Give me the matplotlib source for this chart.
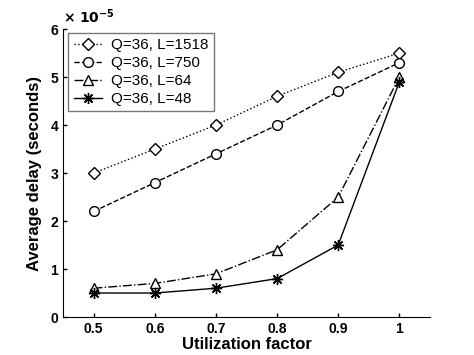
import matplotlib
matplotlib.use("Agg")
import matplotlib.pyplot as plt

x = [0.5, 0.6, 0.7, 0.8, 0.9, 1.0]
labels = ["Q=36, L=1518", "Q=36, L=750", "Q=36, L=64", "Q=36, L=48"]
d1518 = [3.0, 3.5, 4.0, 4.6, 5.1, 5.5]
d750 = [2.2, 2.8, 3.4, 4.0, 4.7, 5.3]
d64 = [0.6, 0.7, 0.9, 1.4, 2.5, 5.0]
d48 = [0.5, 0.5, 0.6, 0.8, 1.5, 4.9]
xticks = [0.5, 0.6, 0.7, 0.8, 0.9, 1]
xticklabels = ["0.5", "0.6", "0.7", "0.8", "0.9", "1"]
yticks = [0, 1, 2, 3, 4, 5, 6]

plt.rcParams['font.family'] = ['Liberation Sans', 'DejaVu Sans']

fig = plt.figure(figsize=(4.74, 3.55), dpi=100)
ax = fig.add_axes([0.133, 0.107, 0.774, 0.811])

series = [d1518, d750, d64, d48]
styles = [(':', 'D', 6), ('--', 'o', 7), ('-.', '^', 7), ('-', (8, 2, 0), 8)]
for ys, lab, (ls, mk, ms) in zip(series, labels, styles):
    ax.plot(x, ys, linestyle=ls, marker=mk, color='black', markerfacecolor='white',
            markeredgecolor='black', markersize=ms, markeredgewidth=1.0,
            linewidth=1.0, label=lab)

ax.set_xlim(0.45, 1.05)
ax.set_ylim(0, 6)
ax.set_xticks(xticks)
ax.set_xticklabels(xticklabels)
ax.set_yticks(yticks)
for t in ax.get_xticklabels() + ax.get_yticklabels():
    t.set_fontweight('bold')
    t.set_fontsize(10)
ax.tick_params(direction='in', length=3, width=1)
ax.spines['top'].set_visible(False)
ax.spines['right'].set_visible(False)
ax.set_xlabel('Utilization factor', fontsize=12, fontweight='bold', labelpad=1)
ax.set_ylabel('Average delay (seconds)', fontsize=12, fontweight='bold', labelpad=6)
ax.text(0.0, 1.01, r'$\mathbf{\times\ 10^{-5}}$', transform=ax.transAxes, fontsize=10,
        ha='left', va='bottom')

leg = ax.legend(loc='upper left', bbox_to_anchor=(0.014, 0.986), borderaxespad=0,
                fontsize=11, frameon=True, fancybox=False, edgecolor='#555555',
                handlelength=1.85, borderpad=0.35, labelspacing=0.25, handletextpad=0.6)
leg.get_frame().set_linewidth(1.0)

fig.savefig('out.png', dpi=100)
